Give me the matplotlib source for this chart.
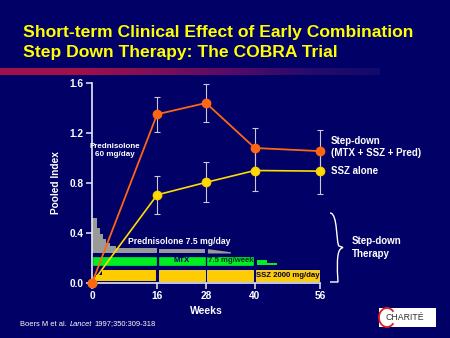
import matplotlib
matplotlib.use("Agg")
import matplotlib.pyplot as plt
from matplotlib.colors import LinearSegmentedColormap
from matplotlib.patches import Rectangle, Arc, PathPatch
from matplotlib.path import Path
import numpy as np

# --- data ---
weeks = [0, 16, 28, 40, 56]
stepdown = [0.0, 1.35, 1.44, 1.08, 1.055]
stepdown_err = [0.0, 0.14, 0.15, 0.16, 0.17]
ssz = [0.0, 0.705, 0.805, 0.90, 0.895]
ssz_err = [0.0, 0.15, 0.16, 0.165, 0.18]

# prednisolone taper (gray block)
pred_weeks = [0, 1.3, 2.0, 2.7, 3.5, 4.5, 6.0, 16]
pred_top = [0.52, 0.44, 0.39, 0.35, 0.32, 0.30, 0.28, 0.275]
pred_mid = [16, 28]
pred_tail_weeks = [28, 34]
pred_tail_top = [0.275, 0.25]
pred_base = 0.24

# MTX (green) and SSZ (yellow) bands
mtx_edges = [0, 16, 28, 40]
mtx_tail_weeks = [40.6, 42.9, 45.5]
mtx_tail_top = [0.185, 0.16, 0.16]
mtx_band = (0.145, 0.21)
ssz_edges = [0, 16, 28, 40, 56]
ssz_ramp_weeks = [0, 1.0, 2.4, 16]
ssz_ramp_top = [0.03, 0.065, 0.104, 0.104]
ssz_band = (0.016, 0.104)

xticks = [0, 16, 28, 40, 56]
yticks = [0.0, 0.4, 0.8, 1.2, 1.6]

# --- style ---
BG = "#000066"
FONT = "Liberation Sans"
plt.rcParams['font.family'] = [FONT, 'DejaVu Sans']
plt.rcParams['font.weight'] = 'bold'

W, H = 450, 338
fig = plt.figure(figsize=(4.5, 3.38), dpi=100, facecolor=BG)


def px(x, y):
    return x / W, 1 - y / H


# title
fig.text(*px(23, 33), "Short-term Clinical Effect of Early Combination",
         color="#ffff00", fontsize=12.6, fontweight="bold", va="center", ha="left")
fig.text(*px(23, 53), "Step Down Therapy: The COBRA Trial",
         color="#ffff00", fontsize=12.6, fontweight="bold", va="center", ha="left")

# gradient bar under title
gax = fig.add_axes([0, 1 - 75 / H, 380 / W, 7 / H])
cmap = LinearSegmentedColormap.from_list(
    "bar", ["#a0104a", "#a0104a", "#801055", "#5a0a68", "#2a0a6c", "#100a6a"])
gax.imshow(np.linspace(0, 1, 256)[None, :], aspect="auto", cmap=cmap)
gax.set_axis_off()

# main axes
ax = fig.add_axes([92 / W, 55 / H, 228 / W, 200 / H])
ax.set_facecolor(BG)
ax.set_xlim(0, 56)
ax.set_ylim(0, 1.6)
for s in ["top", "right"]:
    ax.spines[s].set_visible(False)
for s in ["left", "bottom"]:
    ax.spines[s].set_color("#e8e8f0")
    ax.spines[s].set_linewidth(1.2)
ax.set_xticks(xticks)
ax.set_yticks(yticks)
ax.set_yticklabels([f"{v:.1f}" for v in yticks])
ax.tick_params(colors="#e8e8f0", labelcolor="white", labelsize=7.3,
               length=4, width=1.1, direction="out", pad=2)
for lab in ax.get_xticklabels() + ax.get_yticklabels():
    lab.set_fontweight("bold")
ax.set_xlabel("Weeks", color="white", fontsize=7.5, fontweight="bold", labelpad=3)
ax.set_ylabel("Pooled Index", color="white", fontsize=7.3, fontweight="bold", labelpad=6)

gap = 0.35
# gray prednisolone
ax.fill_between(pred_weeks, pred_base, pred_top, step="post",
                color="#9a9a9a", lw=0, zorder=2)
ax.fill_between([pred_mid[0] + gap, pred_mid[1] - gap], pred_base, pred_top[-1],
                color="#9a9a9a", lw=0, zorder=2)
ax.fill_between([pred_tail_weeks[0] + gap, pred_tail_weeks[1]], pred_base, pred_tail_top,
                color="#9a9a9a", lw=0, zorder=2)
ax.text(21.5, 0.335, "Prednisolone 7.5 mg/day", color="white", fontsize=6.2,
        fontweight="bold", ha="center", va="center", zorder=4)

# green MTX
for a, b in zip(mtx_edges[:-1], mtx_edges[1:]):
    ax.add_patch(Rectangle((a + gap, mtx_band[0]), b - a - 2 * gap,
                           mtx_band[1] - mtx_band[0], facecolor="#00ee22",
                           edgecolor="#00ee22", lw=0.5, zorder=2))
ax.fill_between(mtx_tail_weeks, mtx_band[0], mtx_tail_top, step="post",
                color="#00ee22", lw=0, zorder=2)
ax.text(22, 0.178, "MTX", color="#000066", fontsize=5.6, fontweight="bold",
        ha="center", va="center", zorder=4)
ax.text(34, 0.178, "7.5 mg/week", color="#003322", fontsize=5.6, fontweight="bold",
        ha="center", va="center", zorder=4)

# yellow SSZ
ax.fill_between(ssz_ramp_weeks[:-1] + [ssz_ramp_weeks[-1] - gap], ssz_band[0],
                ssz_ramp_top, step="post", color="#ffcc00", lw=0, zorder=2)
for a, b in zip(ssz_edges[1:-1], ssz_edges[2:]):
    ax.add_patch(Rectangle((a + gap, ssz_band[0]), b - a - 2 * gap,
                           ssz_band[1] - ssz_band[0], facecolor="#ffcc00",
                           edgecolor="#ffe066", lw=0.6, zorder=2))
ax.text(48, 0.06, "SSZ 2000 mg/day", color="#000044", fontsize=5.6, fontweight="bold",
        ha="center", va="center", zorder=4)

ax.text(5.7, 1.06, "Prednisolone\n60 mg/day", color="white", fontsize=5.8,
        fontweight="bold", ha="center", va="center", linespacing=1.3, zorder=4)

# error bars and lines
for vals, errs in [(stepdown, stepdown_err), (ssz, ssz_err)]:
    eb = ax.errorbar(weeks[1:], vals[1:], yerr=errs[1:], fmt="none",
                     ecolor="#c8c8d8", elinewidth=0.8, capsize=2.5, capthick=0.8, zorder=3)
    for art in eb.get_children():
        art.set_clip_on(False)
ax.plot(weeks, ssz, color="#ffdd00", lw=1.2, marker="o", ms=6,
        mfc="#ffdd00", mec="#ffcc00", clip_on=False, zorder=5)
ax.plot(weeks, stepdown, color="#ff6611", lw=1.3, marker="o", ms=6,
        mfc="#ff6611", mec="#ff6611", clip_on=False, zorder=6)

# legend labels
fig.text(*px(331, 141), "Step-down", color="white", fontsize=7, fontweight="bold", va="center")
fig.text(*px(331, 153), "(MTX + SSZ + Pred)", color="white", fontsize=7, fontweight="bold", va="center")
fig.text(*px(331, 171), "SSZ alone", color="white", fontsize=7, fontweight="bold", va="center")

# brace
bx0, bx1, yt, yb = 330, 343, 213, 282
ym = (yt + yb) / 2
verts = [(bx0, yt), (bx0 + 8, yt), (bx0 + 6, ym - 4), (bx1 - 4, ym - 1.5),
         (bx1, ym), (bx1, ym), (bx1, ym),
         (bx1 - 4, ym + 1.5), (bx0 + 6, ym + 4), (bx0 + 8, yb), (bx0, yb)]
verts = [px(x, y) for x, y in verts]
codes = [Path.MOVETO, Path.CURVE4, Path.CURVE4, Path.CURVE4,
         Path.LINETO, Path.LINETO, Path.LINETO,
         Path.CURVE4, Path.CURVE4, Path.CURVE4, Path.LINETO]
fig.add_artist(PathPatch(Path(verts, codes), facecolor="none", edgecolor="white",
                         lw=1.0, transform=fig.transFigure))
fig.text(*px(352, 241), "Step-down", color="white", fontsize=7, fontweight="bold", va="center")
fig.text(*px(352, 254), "Therapy", color="white", fontsize=7, fontweight="bold", va="center")

# citation, pieces placed one after another
renderer = fig.canvas.get_renderer()
cx = 20
for piece, style, pad in [("Boers M et al.", "normal", 3), ("Lancet", "italic", 2.5),
                          ("1997;350:309-318", "normal", 0)]:
    t = fig.text(*px(cx, 324), piece, color="white", fontsize=5.4, fontstyle=style,
                 fontweight="normal", va="center")
    cx += t.get_window_extent(renderer).width + pad

# logo
fig.add_artist(Rectangle(px(379, 327), 57 / W, 19 / H, transform=fig.transFigure,
                         facecolor="white", edgecolor="none"))
lx, ly = px(387, 317.5)
fig.add_artist(Arc((lx, ly), 16 / W, 19 / H, theta1=50, theta2=310,
                   transform=fig.transFigure, color="#e02020", lw=1.3))
fig.text(*px(386, 317.5), "CHARITÉ", color="#333333", fontsize=6.3,
         fontweight="normal", va="center", ha="left")

fig.savefig("out.png", dpi=100, facecolor=BG)
